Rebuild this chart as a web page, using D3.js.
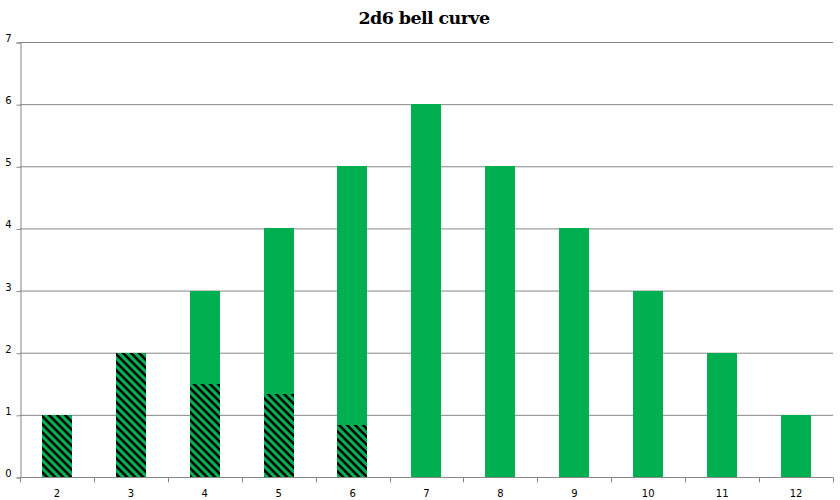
<!DOCTYPE html>
<html>
<head>
<meta charset="utf-8">
<script src="https://cdn.jsdelivr.net/npm/d3@7"></script>
<style>
  body { margin: 0; background: #fff; }
  svg { display: block; }
</style>
</head>
<body>
<div id="chart"></div>
<script>
// 2d6 sums and ways to roll them
var sums = ["2", "3", "4", "5", "6", "7", "8", "9", "10", "11", "12"];
var totals = [1, 2, 3, 4, 5, 6, 5, 4, 3, 2, 1];
// hatched part at the bottom of the first bars
var hatched = [1, 2, 1.5, 1.333, 0.833, 0, 0, 0, 0, 0, 0];
var yTicks = [0, 1, 2, 3, 4, 5, 6, 7];

var W = 840, H = 500;
var margin = { top: 42, right: 7, bottom: 23, left: 20 };
var width = W - margin.left - margin.right,
    height = H - margin.top - margin.bottom;

var svg = d3.select("#chart").append("svg")
    .attr("width", W)
    .attr("height", H);

var defs = svg.append("defs");
var pat = defs.append("pattern")
    .attr("id", "hatch")
    .attr("patternUnits", "userSpaceOnUse")
    .attr("width", 8)
    .attr("height", 8);
pat.append("rect").attr("width", 8).attr("height", 8).attr("fill", "#00b050");
pat.append("path")
    .attr("d", "M-2,-2 L10,10 M-2,6 L2,10 M6,-2 L10,2")
    .attr("stroke", "#000")
    .attr("stroke-width", 2.6);

svg.append("text")
    .attr("x", 424)
    .attr("y", 24)
    .attr("text-anchor", "middle")
    .style("font-family", "'DejaVu Serif', serif")
    .style("font-weight", "bold")
    .style("font-size", "17.5px")
    .style("letter-spacing", "-0.6px")
    .text("2d6 bell curve");

var g = svg.append("g")
    .attr("transform", "translate(" + margin.left + "," + margin.top + ")");

var x = d3.scaleBand().domain(sums).range([0, width]).paddingInner(0.59).paddingOuter(0.295);
var xTick = d3.scaleBand().domain(sums).range([0, width]);
var y = d3.scaleLinear().domain([0, 7]).range([height, 0]);

// gridlines
g.append("g").selectAll("line")
    .data(yTicks.slice(1))
    .enter().append("line")
    .attr("x1", 0).attr("x2", width)
    .attr("y1", function(d) { return y(d) + 0.5; })
    .attr("y2", function(d) { return y(d) + 0.5; })
    .attr("stroke", "#868686");

// y axis
var yAxis = d3.axisLeft(y).tickValues(yTicks).tickSize(4).tickFormat(d3.format("d"));
var ya = g.append("g").attr("transform", "translate(0.5,0.5)").call(yAxis);
ya.select(".domain").attr("stroke", "#868686");
ya.selectAll(".tick line").attr("stroke", "#868686");
ya.selectAll(".tick text")
    .attr("x", -9)
    .attr("dy", "-0.1em")
    .style("font-family", "'DejaVu Sans', sans-serif")
    .style("font-size", "10px")
    .attr("fill", "#000");

// bars
g.append("g").selectAll("rect")
    .data(sums)
    .enter().append("rect")
    .attr("x", function(d) { return Math.round(x(d)); })
    .attr("width", Math.round(x.bandwidth()))
    .attr("y", function(d, i) { return Math.round(y(totals[i])); })
    .attr("height", function(d, i) { return Math.round(height - y(totals[i])); })
    .attr("fill", "#00b050");

g.append("g").selectAll("rect")
    .data(sums.filter(function(d, i) { return hatched[i] > 0; }))
    .enter().append("rect")
    .attr("x", function(d) { return Math.round(x(d)); })
    .attr("width", Math.round(x.bandwidth()))
    .attr("y", function(d) { return Math.round(y(hatched[sums.indexOf(d)])); })
    .attr("height", function(d) { return Math.round(height - y(hatched[sums.indexOf(d)])); })
    .attr("fill", "url(#hatch)");

// x axis
var xa = g.append("g").attr("transform", "translate(0," + (height + 0.5) + ")");
xa.append("line").attr("x1", 0).attr("x2", width).attr("stroke", "#868686");
xa.selectAll("line.tk")
    .data(sums.concat(["end"]))
    .enter().append("line")
    .attr("class", "tk")
    .attr("x1", function(d, i) { return Math.round(i * xTick.bandwidth()) + 0.5; })
    .attr("x2", function(d, i) { return Math.round(i * xTick.bandwidth()) + 0.5; })
    .attr("y1", 0).attr("y2", 5)
    .attr("stroke", "#868686");
xa.selectAll("text")
    .data(sums)
    .enter().append("text")
    .attr("x", function(d) { return xTick(d) + xTick.bandwidth() / 2; })
    .attr("y", 19)
    .attr("text-anchor", "middle")
    .style("font-family", "'DejaVu Sans', sans-serif")
    .style("font-size", "10px")
    .text(function(d) { return d; });
</script>
</body>
</html>
